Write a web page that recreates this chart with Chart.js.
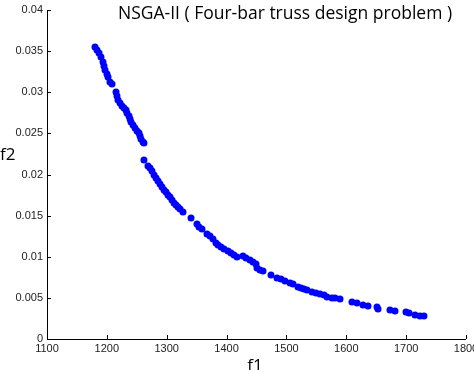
<!DOCTYPE html>
<html>
<head>
<meta charset="utf-8">
<script src="https://cdn.jsdelivr.net/npm/chart.js@4/dist/chart.umd.min.js"></script>
<style>
  html, body { margin: 0; padding: 0; background: #ffffff; }
  #wrap { width: 474px; height: 370px; }
</style>
</head>
<body>
<div id="wrap"><canvas id="c" width="474" height="370"></canvas></div>
<script>
// ---- data ----
const titleText = "NSGA-II ( Four-bar truss design problem )";
const xLabel = "f1";
const yLabel = "f2";
const xTicks = [1100, 1200, 1300, 1400, 1500, 1600, 1700, 1800];
const yTicks = [0, 0.005, 0.01, 0.015, 0.02, 0.025, 0.03, 0.035, 0.04];

const f1 = [
  1180.2, 1183.5, 1186.9, 1190.2, 1193.6, 1195.2, 1196.9, 1200.2, 1201.9, 1205.2,
  1208.6, 1215.3, 1216.9, 1218.6, 1222.0, 1225.3, 1228.6, 1232.0, 1233.6, 1237.0,
  1238.7, 1240.3, 1243.7, 1247.0, 1250.4, 1253.7, 1255.4, 1257.0, 1260.4, 1262.0,
  1262.0, 1268.7, 1272.1, 1275.4, 1278.8, 1282.1, 1285.4, 1288.8, 1292.1, 1295.5,
  1298.8, 1302.1, 1305.5, 1308.8, 1312.2, 1315.5, 1318.8, 1322.2, 1327.2, 1340.6,
  1350.6, 1353.9, 1358.9, 1367.3, 1372.3, 1377.3, 1382.3, 1385.7, 1390.7, 1395.7,
  1402.4, 1407.4, 1412.4, 1417.4, 1427.4, 1432.4, 1439.1, 1444.1, 1449.2, 1450.8,
  1455.8, 1460.9, 1474.2, 1484.2, 1490.9, 1497.6, 1506.0, 1511.0, 1519.3, 1524.3,
  1529.3, 1534.4, 1542.7, 1549.4, 1556.1, 1562.8, 1567.8, 1576.1, 1581.1, 1589.5,
  1609.5, 1617.9, 1627.9, 1636.3, 1651.3, 1653.0, 1673.0, 1681.4, 1699.7, 1704.8,
  1714.8, 1723.1, 1729.8
];
const f2 = [
  0.03551, 0.03514, 0.03478, 0.03429, 0.03368, 0.03320, 0.03271, 0.03222, 0.03186, 0.03125,
  0.03101, 0.03004, 0.02955, 0.02906, 0.02870, 0.02833, 0.02809, 0.02785, 0.02748, 0.02712,
  0.02675, 0.02639, 0.02602, 0.02566, 0.02529, 0.02505, 0.02468, 0.02432, 0.02396, 0.02383,
  0.02177, 0.02104, 0.02079, 0.02043, 0.01994, 0.01958, 0.01921, 0.01885, 0.01848, 0.01812,
  0.01788, 0.01751, 0.01727, 0.01690, 0.01654, 0.01629, 0.01605, 0.01581, 0.01544, 0.01471,
  0.01398, 0.01362, 0.01338, 0.01277, 0.01252, 0.01216, 0.01167, 0.01143, 0.01119, 0.01094,
  0.01070, 0.01046, 0.01021, 0.00997, 0.01009, 0.00985, 0.00961, 0.00936, 0.00912, 0.00863,
  0.00839, 0.00827, 0.00778, 0.00742, 0.00730, 0.00705, 0.00681, 0.00669, 0.00632, 0.00620,
  0.00608, 0.00596, 0.00572, 0.00559, 0.00547, 0.00535, 0.00511, 0.00499, 0.00499, 0.00486,
  0.00450, 0.00438, 0.00413, 0.00401, 0.00389, 0.00365, 0.00353, 0.00340, 0.00328, 0.00316,
  0.00292, 0.00280, 0.00280
];

const points = f1.map((x, i) => ({ x: x, y: f2[i] }));

const fmt = v => String(+Number(v).toFixed(4));

const decorPlugin = {
  id: 'decor',
  afterDraw(chart) {
    const ctx = chart.ctx;
    const xs = chart.scales.x, ys = chart.scales.y;
    const area = chart.chartArea;
    ctx.save();
    // axis lines
    ctx.strokeStyle = '#000';
    ctx.lineWidth = 1;
    ctx.beginPath();
    ctx.moveTo(area.left + 0.5, area.top);
    ctx.lineTo(area.left + 0.5, area.bottom + 0.5);
    ctx.lineTo(area.right, area.bottom + 0.5);
    ctx.stroke();
    // inward tick marks
    ctx.beginPath();
    xTicks.forEach(t => {
      const px = Math.round(xs.getPixelForValue(t)) + 0.5;
      ctx.moveTo(px, area.bottom);
      ctx.lineTo(px, area.bottom - 4);
    });
    yTicks.forEach(t => {
      const py = Math.round(ys.getPixelForValue(t)) + 0.5;
      ctx.moveTo(area.left, py);
      ctx.lineTo(area.left + 4, py);
    });
    ctx.stroke();
    // title
    ctx.fillStyle = '#000';
    ctx.font = '17.5px "Open Sans"';
    ctx.textAlign = 'center';
    ctx.textBaseline = 'alphabetic';
    ctx.fillText(titleText, 285, 19);
    // axis labels
    ctx.font = '17px "Open Sans"';
    ctx.textAlign = 'center';
    ctx.fillText(xLabel, 255, 371);
    ctx.textAlign = 'left';
    ctx.fillText(yLabel, 0, 160);
    ctx.restore();
  }
};

new Chart(document.getElementById('c'), {
  type: 'scatter',
  data: {
    datasets: [{
      data: points,
      backgroundColor: '#0000ff',
      borderColor: '#0000ff',
      borderWidth: 0,
      pointRadius: 3.5,
      pointHoverRadius: 3.5
    }]
  },
  options: {
    responsive: false,
    devicePixelRatio: 1,
    animation: false,
    events: [],
    layout: { padding: { top: 10, right: 8, left: 0, bottom: 0 } },
    plugins: {
      legend: { display: false },
      tooltip: { enabled: false },
      title: { display: false }
    },
    scales: {
      x: {
        type: 'linear',
        min: 1100, max: 1800,
        afterBuildTicks(scale) { scale.ticks = xTicks.map(v => ({ value: v })); },
        grid: { display: false, drawTicks: false },
        border: { display: false },
        ticks: {
          autoSkip: false, maxRotation: 0, minRotation: 0,
          padding: 3,
          color: '#222',
          font: { family: '"Liberation Sans", Arial, sans-serif', size: 11 },
          callback: v => fmt(v)
        },
        afterFit(scale) {
          scale.height = 31;
          scale.paddingLeft = 0; scale.paddingRight = 0;
        }
      },
      y: {
        type: 'linear',
        min: 0, max: 0.04,
        afterBuildTicks(scale) { scale.ticks = yTicks.map(v => ({ value: v })); },
        grid: { display: false, drawTicks: false },
        border: { display: false },
        ticks: {
          autoSkip: false,
          padding: 4,
          color: '#222',
          font: { family: '"Liberation Sans", Arial, sans-serif', size: 11 },
          callback: v => fmt(v)
        },
        afterFit(scale) {
          scale.width = 47;
          scale.paddingTop = 0; scale.paddingBottom = 0;
        }
      }
    }
  },
  plugins: [decorPlugin]
});
</script>
</body>
</html>
